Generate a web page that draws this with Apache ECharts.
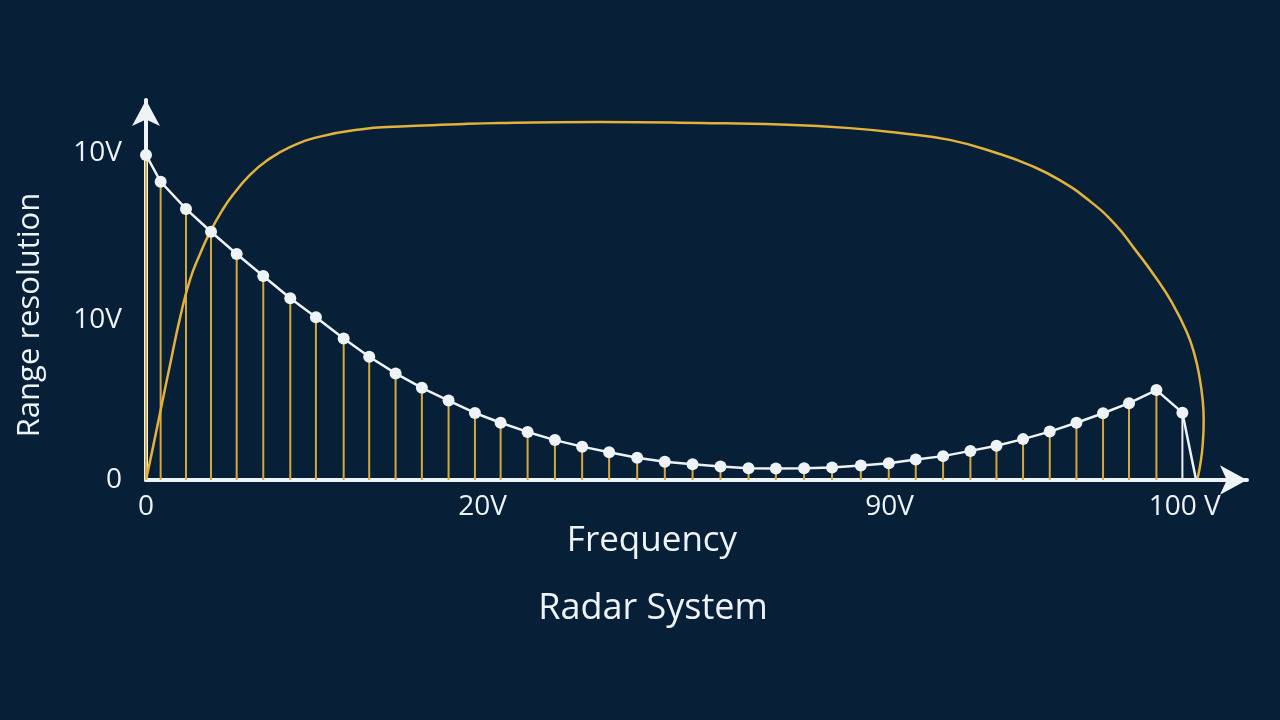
<!DOCTYPE html>
<html>
<head>
<meta charset="utf-8">
<script src="https://cdn.jsdelivr.net/npm/echarts@6/dist/echarts.min.js"></script>
<style>
html,body{margin:0;padding:0;background:#072038;}
#chart{width:1280px;height:720px;}
</style>
</head>
<body>
<div id="chart"></div>
<script>
// Data
const pointX = [0, 1.41, 3.85, 6.26, 8.73, 11.29, 13.89, 16.36, 19.03, 21.49, 24.03, 26.56, 29.13, 31.67, 34.14, 36.74, 39.37, 41.99, 44.59, 47.29, 49.95, 52.62, 55.31, 58.01, 60.64, 63.36, 66.05, 68.82, 71.51, 74.11, 76.74, 79.37, 81.88, 84.44, 87.01, 89.58, 92.14, 94.64, 97.28, 99.78];
const pointY = [9.94, 9.12, 8.29, 7.59, 6.91, 6.24, 5.56, 4.98, 4.33, 3.77, 3.26, 2.82, 2.43, 2.05, 1.75, 1.47, 1.22, 1.02, 0.85, 0.68, 0.56, 0.48, 0.41, 0.36, 0.35, 0.36, 0.38, 0.44, 0.51, 0.63, 0.73, 0.89, 1.05, 1.25, 1.48, 1.75, 2.04, 2.35, 2.75, 2.06];
const lineEnd = [101.1, 0];
const curveX = [0, 0.58, 1.35, 2.31, 3.27, 4.23, 5.20, 6.16, 7.31, 8.37, 10.01, 11.65, 13.86, 16.75, 20.60, 24.45, 29.26, 34.07, 43.70, 53.32, 61.02, 67.76, 72.57, 77.38, 82.19, 85.08, 87.97, 90.86, 93.26, 95.19, 97.11, 98.75, 100.19, 100.96, 101.44, 101.73, 101.83, 101.73, 101.54, 101.25];
const curveY = [0, 0.86, 2.05, 3.52, 4.95, 6.12, 6.91, 7.58, 8.23, 8.72, 9.33, 9.77, 10.18, 10.50, 10.72, 10.81, 10.87, 10.92, 10.95, 10.92, 10.87, 10.76, 10.61, 10.40, 9.97, 9.63, 9.17, 8.53, 7.83, 7.06, 6.24, 5.44, 4.53, 3.82, 3.12, 2.45, 1.83, 1.07, 0.55, 0.06];
const xTickValues = [0, 32.4, 71.6, 100];
const xTickLabels = ['0', '20V', '90V', '100 V'];
const yTickValues = [0, 4.89, 10];
const yTickLabels = ['0', '10V', '10V'];
const titleText = 'Radar System';
const xName = 'Frequency';
const yName = 'Range resolution';

const WHITE = '#eef3f8';
const GOLD = '#e2b23a';
const STEM = '#d6a73c';
const FONT = 'Open Sans';

const linePts = pointX.map((x, i) => [x, pointY[i]]);
linePts.push({ value: lineEnd, symbol: 'none' });
const stemPts = pointX.map((x, i) => {
  const isLast = i === pointX.length - 1;
  return { value: [x, pointY[i]], itemStyle: { color: isLast ? WHITE : STEM } };
});
const curvePts = curveX.map((x, i) => [x, curveY[i]]);

const chart = echarts.init(document.getElementById('chart'));
chart.setOption({
  backgroundColor: '#072038',
  animation: false,
  title: [
    { text: xName, left: 647, top: 519, textAlign: 'center',
      textStyle: { color: WHITE, fontSize: 35, fontWeight: 'normal', fontFamily: FONT } },
    { text: titleText, left: 648, top: 586, textAlign: 'center',
      textStyle: { color: WHITE, fontSize: 36, fontWeight: 'normal', fontFamily: FONT } }
  ],
  graphic: [{
    type: 'text', x: 30, y: 315, rotation: Math.PI / 2,
    style: { text: yName, fill: WHITE, font: '31px "' + FONT + '"', textAlign: 'center', textVerticalAlign: 'middle' }
  }],
  grid: { left: 146, right: 33, top: 100, bottom: 240, containLabel: false },
  xAxis: {
    type: 'value', min: 0, max: 106,
    axisLine: { show: true, lineStyle: { color: WHITE, width: 4 }, symbol: ['none', 'arrow'], symbolSize: [22, 27], onZero: false },
    axisTick: { show: false },
    splitLine: { show: false },
    axisLabel: {
      customValues: xTickValues, color: WHITE, fontSize: 28, fontFamily: FONT, margin: 13,
      formatter: v => { const i = xTickValues.findIndex(t => Math.abs(t - v) < 1e-6); return i >= 0 ? xTickLabels[i] : ''; }
    }
  },
  yAxis: {
    type: 'value', min: 0, max: 11.62,
    axisLine: { show: true, lineStyle: { color: WHITE, width: 4 }, symbol: ['none', 'arrow'], symbolSize: [21, 26] },
    axisTick: { show: false },
    splitLine: { show: false },
    axisLabel: {
      customValues: yTickValues, color: WHITE, fontSize: 28, fontFamily: FONT, margin: 24,
      formatter: v => { const i = yTickValues.findIndex(t => Math.abs(t - v) < 1e-6); return i >= 0 ? yTickLabels[i] : ''; }
    }
  },
  series: [
    { type: 'bar', data: stemPts, barWidth: 2, z: 1, itemStyle: { color: STEM } },
    { type: 'line', data: curvePts, smooth: 0.5, showSymbol: false, symbol: 'none', z: 2,
      lineStyle: { color: GOLD, width: 2.5 } },
    { type: 'line', data: linePts, smooth: false, symbol: 'circle', symbolSize: 12, showSymbol: true, z: 3,
      itemStyle: { color: WHITE }, lineStyle: { color: WHITE, width: 2.5 } }
  ]
});
</script>
</body>
</html>
